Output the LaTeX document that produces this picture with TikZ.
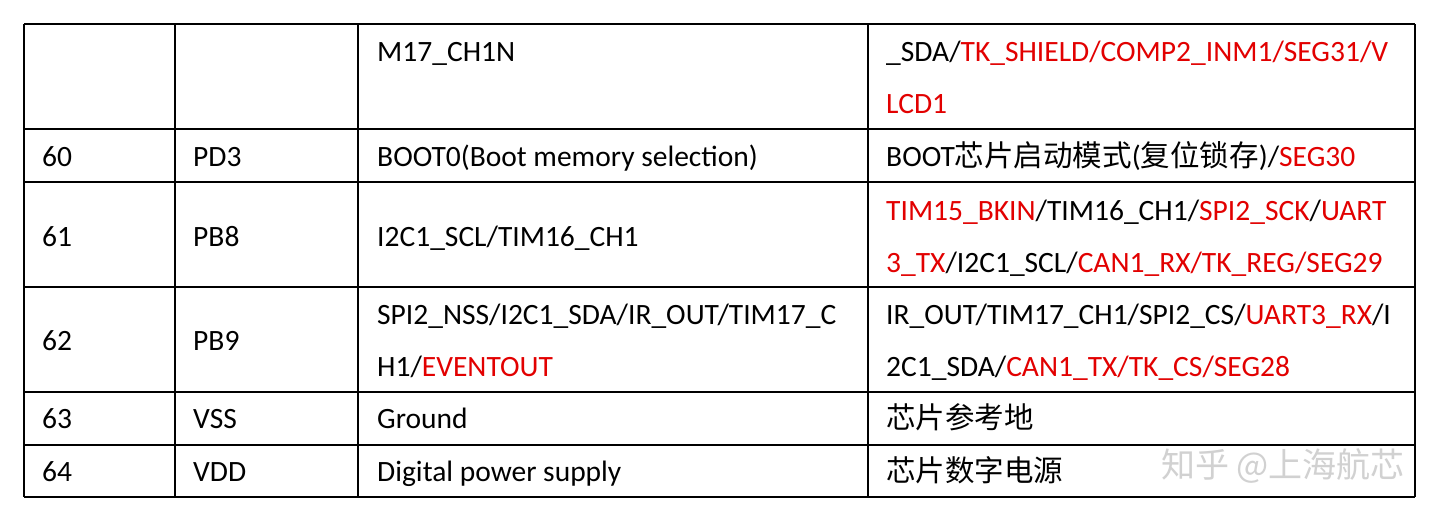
\documentclass[tikz,border=0pt]{standalone}
\usepackage{fontspec}
\setmainfont{Carlito}
\newfontfamily\cjk{Noto Sans CJK SC}
\definecolor{rd}{RGB}{226,0,0}
\newcommand{\R}[1]{\textcolor{rd}{#1}}
\begin{document}
\begin{tikzpicture}[x=1pt,y=-1pt,
  txt/.style={anchor=west,inner sep=0pt,font=\fontsize{29.5}{32}\selectfont,text height=20pt,text depth=6pt},
  grid/.style={line width=1.3pt}]
\useasboundingbox (0,0) rectangle (1440,523);
\fill[white] (0,0) rectangle (1440,523);
\foreach \x in {24,175,358,868,1415} \draw[grid] (\x,24) -- (\x,497);
\foreach \y in {24,129,182,287,392,445,497} \draw[grid] (24,\y) -- (1415,\y);
\node[txt] (a1) at (377,54) {M17\_CH1N};
\node[txt] (b1) at (886,54) {\_SDA/\R{TK\_SHIELD/COMP2\_INM1/SEG31/V}};
\node[txt] (b2) at (886,106) {\R{LCD1}};
\node[txt] (n60) at (42,159) {60};
\node[txt] (p60) at (193,159) {PD3};
\node[txt] (f60) at (377,159) {BOOT0(Boot memory selection)};
\node[txt] (d60) at (886,159) {BOOT{\cjk 芯片启动模式}({\cjk 复位锁存})/\R{SEG30}};
\node[txt] (n61) at (42,239) {61};
\node[txt] (p61) at (193,239) {PB8};
\node[txt] (f61) at (377,239) {I2C1\_SCL/TIM16\_CH1};
\node[txt] (d61a) at (886,213) {\R{TIM15\_BKIN}/TIM16\_CH1/\R{SPI2\_SCK}/\R{UART}};
\node[txt] (d61b) at (886,265) {\R{3\_TX}/I2C1\_SCL/\R{CAN1\_RX/TK\_REG/SEG29}};
\node[txt] (n62) at (42,343) {62};
\node[txt] (p62) at (193,343) {PB9};
\node[txt] (f62a) at (377,317) {SPI2\_NSS/I2C1\_SDA/IR\_OUT/TIM17\_C};
\node[txt] (f62b) at (377,369) {H1/\R{EVENTOUT}};
\node[txt] (d62a) at (886,317) {IR\_OUT/TIM17\_CH1/SPI2\_CS/\R{UART3\_RX}/I};
\node[txt] (d62b) at (886,369) {2C1\_SDA/\R{CAN1\_TX/TK\_CS/SEG28}};
\node[txt] (n63) at (42,421) {63};
\node[txt] (p63) at (193,421) {VSS};
\node[txt] (f63) at (377,421) {Ground};
\node[txt] (d63) at (886,421) {\cjk 芯片参考地};
\node[txt] (n64) at (42,474) {64};
\node[txt] (p64) at (193,474) {VDD};
\node[txt] (f64) at (377,474) {Digital power supply};
\node[txt] (d64) at (886,474) {\cjk 芯片数字电源};
\node[anchor=east,inner sep=0pt,font=\cjk\fontsize{34}{38}\selectfont,text=black!18] (wm) at (1405,466) {知乎 @上海航芯};
\end{tikzpicture}
\end{document}
